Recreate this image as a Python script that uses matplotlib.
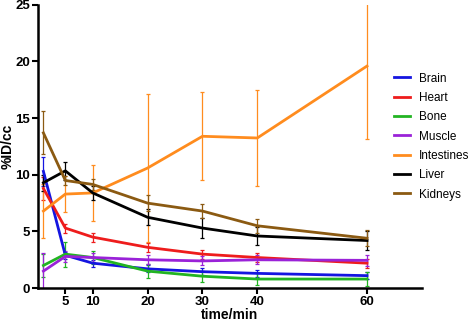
import matplotlib
matplotlib.use("Agg")
import matplotlib.pyplot as plt
from matplotlib.lines import Line2D

plt.rcParams['font.family'] = ['Liberation Sans', 'DejaVu Sans']

t = [1, 5, 10, 20, 30, 40, 60]

organs = ['Brain', 'Heart', 'Bone', 'Muscle', 'Intestines', 'Liver', 'Kidneys']
colors = ['#1515e0', '#ee1c1c', '#22b422', '#9a22d8', '#ff8c1e', '#000000', '#8b5a12']

means = {
    'Brain':      [10.3, 2.9, 2.2, 1.7, 1.45, 1.3, 1.1],
    'Heart':      [8.8, 5.3, 4.5, 3.6, 3.0, 2.7, 2.2],
    'Bone':       [2.0, 3.0, 2.7, 1.5, 1.05, 0.8, 0.8],
    'Muscle':     [1.5, 2.8, 2.7, 2.5, 2.4, 2.5, 2.45],
    'Intestines': [6.8, 8.3, 8.4, 10.6, 13.4, 13.25, 19.6],
    'Liver':      [9.3, 10.35, 8.4, 6.25, 5.3, 4.6, 4.2],
    'Kidneys':    [13.7, 9.5, 9.15, 7.5, 6.8, 5.5, 4.4],
}
errs = {
    'Brain':      [1.3, 0.3, 0.3, 0.3, 0.3, 0.3, 0.3],
    'Heart':      [1.0, 0.4, 0.4, 0.4, 0.4, 0.4, 0.4],
    'Bone':       [1.0, 1.1, 0.6, 0.6, 0.5, 0.5, 0.6],
    'Muscle':     [1.6, 0.5, 0.4, 0.4, 0.4, 0.4, 0.5],
    'Intestines': [2.4, 1.6, 2.5, 6.5, 3.9, 4.2, 6.4],
    'Liver':      [0.7, 0.8, 0.6, 0.7, 0.9, 0.8, 0.8],
    'Kidneys':    [1.9, 0.4, 0.5, 0.7, 0.6, 0.6, 0.7],
}

fig = plt.figure(figsize=(4.74, 3.23), dpi=100)
ax = fig.add_axes([0.080, 0.108, 0.81, 0.877])

handles = []
for name, c in zip(organs, colors):
    ax.errorbar(t, means[name], yerr=errs[name], color=c, lw=2.0,
                elinewidth=0.9, capsize=1.5, capthick=0.9)
    handles.append(Line2D([], [], color=c, lw=2.0, label=name))

ax.set_xlim(0, 70)
ax.set_ylim(0, 25)
ax.set_xticks([5, 10, 20, 30, 40, 60])
ax.set_yticks([0, 5, 10, 15, 20, 25])
ax.spines['top'].set_visible(False)
ax.spines['right'].set_visible(False)
ax.spines['left'].set_linewidth(1.8)
ax.spines['bottom'].set_linewidth(1.8)
ax.tick_params(width=1.5, length=4, labelsize=9.5, pad=1.5)
for lab in ax.get_xticklabels() + ax.get_yticklabels():
    lab.set_fontweight('bold')
ax.set_xlabel('time/min', fontsize=10, fontweight='bold', labelpad=0)
ax.set_ylabel('%ID/cc', fontsize=10, fontweight='bold', labelpad=1)

ax.legend(handles=handles, loc='center left', bbox_to_anchor=(0.915, 0.535),
          frameon=False, fontsize=8.5, handlelength=1.35, labelspacing=0.62,
          handletextpad=0.8, borderaxespad=0)

fig.savefig('out.png', dpi=100)
